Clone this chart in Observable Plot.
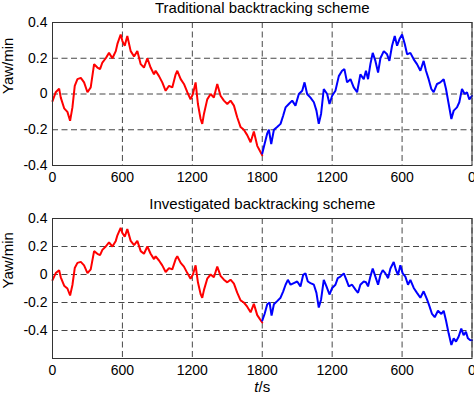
<!DOCTYPE html>
<html><head><meta charset="utf-8">
<script src="https://cdn.jsdelivr.net/npm/d3@7"></script>
<script src="https://cdn.jsdelivr.net/npm/@observablehq/plot@0.6"></script>
<style>
body{margin:0;background:#fff;}
#chart{width:474px;height:398px;overflow:hidden;}
#chart svg{display:block;}
</style></head><body><div id="chart"></div>
<script>
const titles = ["Traditional backtracking scheme", "Investigated backtracking scheme"];
const yLabel = "Yaw/min";
const xLabel = "t/s";
const xTicks = [0, 600, 1200, 1800, 2400, 3000, 3600];
const xTickLabels = ["0", "600", "1200", "1800", "1200", "600", "0"];
const yTicks = [-0.4, -0.2, 0, 0.2, 0.4];
const yTickLabels = ["-0.4", "-0.2", "0", "0.2", "0.4"];
const yDomainTop = [-0.4, 0.4];
const yDomainBottom = [-0.6, 0.4];

// forward run (red), identical in both panels
const redT = [0,28,57,71,100,128,151,171,191,214,243,271,300,328,357,385,408,428,457,485,514,543,557,585,600,620,642,671,700,728,757,785,814,842,871,885,914,942,971,1000,1028,1057,1071,1100,1128,1157,1185,1205,1228,1248,1271,1285,1300,1328,1357,1385,1414,1442,1471,1500,1528,1557,1585,1614,1642,1671,1700,1728,1757,1777,1800];
const redV = [-0.04,0.01,0.03,-0.02,-0.08,-0.10,-0.15,-0.075,0.046,0.083,0.09,0.065,0.01,0.037,0.167,0.148,0.139,0.176,0.2,0.23,0.2,0.24,0.28,0.333,0.296,0.27,0.324,0.24,0.21,0.24,0.167,0.148,0.2,0.148,0.11,0.13,0.10,0.065,0.018,0.046,0.037,0.11,0.13,0.083,0.056,0.01,-0.03,0,0.065,-0.056,-0.14,-0.167,-0.11,-0.03,0,-0.02,0.056,-0.01,-0.037,-0.056,-0.037,-0.065,-0.13,-0.185,-0.2,-0.23,-0.27,-0.21,-0.29,-0.315,-0.343];

// backtracking run (blue), traditional scheme
const blueTopT = [1800,1820,1843,1857,1877,1900,1928,1957,1980,2000,2028,2057,2085,2114,2143,2163,2185,2214,2243,2265,2285,2305,2328,2357,2377,2400,2428,2457,2485,2505,2528,2557,2585,2614,2642,2671,2690,2708,2728,2748,2771,2794,2814,2843,2871,2891,2914,2937,2957,2977,3000,3023,3043,3071,3100,3128,3157,3185,3205,3228,3251,3271,3300,3328,3357,3377,3400,3423,3443,3471,3491,3514,3537,3557,3577,3600];
const blueTopV = [-0.333,-0.28,-0.22,-0.2,-0.28,-0.2,-0.185,-0.167,-0.12,-0.075,-0.056,-0.037,-0.065,0,0.018,0.065,0,-0.02,-0.046,-0.093,-0.167,-0.11,0.028,0,-0.056,-0.01,0.018,0.10,0.13,0.139,0.065,0.083,0.037,0.01,0.11,0.083,0.13,0.083,0.167,0.23,0.185,0.12,0.2,0.24,0.222,0.185,0.27,0.324,0.27,0.306,0.333,0.28,0.222,0.23,0.194,0.167,0.13,0.185,0.13,0.083,0.028,0.01,0.056,0.065,0.083,0.028,-0.056,-0.14,-0.093,-0.075,-0.046,0.028,0,0.01,-0.03,-0.01];

// backtracking run (blue), investigated scheme
const blueBottomT = [1800,1820,1843,1863,1880,1900,1928,1957,1980,2000,2020,2043,2071,2100,2128,2151,2171,2191,2214,2243,2265,2285,2305,2328,2351,2377,2400,2428,2448,2471,2500,2522,2543,2571,2600,2622,2642,2671,2690,2708,2728,2748,2771,2794,2814,2834,2857,2880,2900,2928,2948,2965,2985,3005,3028,3051,3071,3100,3128,3157,3185,3214,3234,3257,3280,3308,3337,3357,3377,3400,3423,3443,3463,3485,3508,3528,3548,3565,3583,3600];
const blueBottomV = [-0.329,-0.282,-0.213,-0.2,-0.294,-0.213,-0.19,-0.166,-0.12,-0.073,-0.038,-0.073,-0.061,-0.05,-0.085,-0.003,0.008,-0.05,-0.061,-0.073,-0.131,-0.236,-0.178,-0.038,-0.085,-0.143,-0.096,-0.073,-0.026,-0.015,0.008,-0.038,-0.085,-0.073,-0.108,-0.131,-0.073,-0.05,-0.055,-0.085,-0.015,0.043,-0.015,-0.073,-0.003,0.031,0.008,-0.026,0.043,0.089,0.031,-0.003,0.066,0.008,-0.015,-0.073,-0.038,-0.096,-0.131,-0.166,-0.12,-0.178,-0.224,-0.282,-0.305,-0.259,-0.282,-0.259,-0.329,-0.422,-0.503,-0.456,-0.479,-0.445,-0.387,-0.433,-0.41,-0.456,-0.468,-0.47];

const toRows = (T, V) => T.map((t, i) => ({t, v: V[i]}));
const red = toRows(redT, redV);
const FONT = "'Liberation Sans', Arial, Helvetica, sans-serif";
const gridStyle = {stroke: "#000", strokeOpacity: 0.72, strokeWidth: 1, strokeDasharray: "6,3.5"};

function panel(title, blueT, blueV, yDomain, height, marginBottom, withXLabel) {
  const blue = toRows(blueT, blueV);
  const marks = [
    Plot.gridX(xTicks, gridStyle),
    Plot.gridY(yTicks, gridStyle),
    Plot.line(red, {x: "t", y: "v", stroke: "#f00", strokeWidth: 2, strokeLinejoin: "miter"}),
    Plot.line(blue, {x: "t", y: "v", stroke: "#00f", strokeWidth: 2, strokeLinejoin: "miter"}),
    Plot.frame({stroke: "#333", strokeWidth: 1}),
    Plot.axisX(xTicks, {tickSize: 0, tickPadding: 7, label: null, fontSize: 14,
      tickFormat: d => xTickLabels[xTicks.indexOf(d)]}),
    Plot.axisY(yTicks, {tickSize: 0, tickPadding: 5, label: null, fontSize: 14,
      tickFormat: d => yTickLabels[yTicks.indexOf(d)]}),
    Plot.text([yLabel], {frameAnchor: "left", rotate: -90, dx: -44, fontSize: 15, fill: "#000"}),
    Plot.text([title], {frameAnchor: "top", dy: -10, lineAnchor: "bottom", fontSize: 15, fill: "#000"})
  ];
  if (withXLabel) marks.push(Plot.text([xLabel], {frameAnchor: "bottom", dy: 29, lineAnchor: "middle", fontSize: 15, fill: "#000"}));
  const svg = Plot.plot({
    width: 474, height,
    marginLeft: 52, marginRight: 2.5, marginTop: 22, marginBottom,
    style: {fontFamily: FONT, background: "white", color: "#000", overflow: "visible"},
    x: {domain: [0, 3600]},
    y: {domain: yDomain},
    marks
  });
  if (withXLabel) {
    d3.select(svg).selectAll("text").filter(function () { return this.textContent === xLabel; })
      .each(function () {
        const el = d3.select(this);
        el.text(null);
        el.append("tspan").attr("font-style", "italic").text(xLabel.slice(0, 1));
        el.append("tspan").text(xLabel.slice(1));
      });
  }
  return svg;
}

const root = document.getElementById("chart");
root.appendChild(panel(titles[0], blueTopT, blueTopV, yDomainTop, 196, 31, false));
root.appendChild(panel(titles[1], blueBottomT, blueBottomV, yDomainBottom, 202, 40, true));
</script></body></html>
